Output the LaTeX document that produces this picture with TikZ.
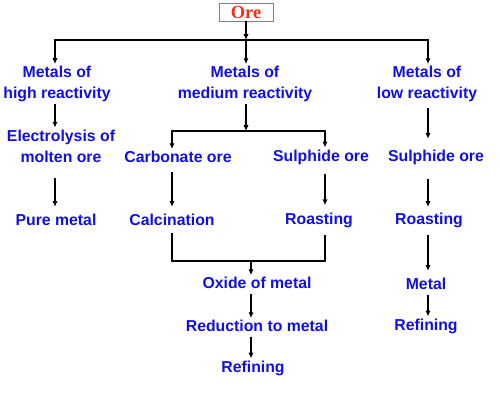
\documentclass[tikz,border=0pt]{standalone}
\usepackage{fontspec}
\setmainfont{Liberation Sans}
\newfontfamily\oreserif{Liberation Serif}
\usepackage{tikz}
\usetikzlibrary{positioning,arrows.meta}
\definecolor{oreblue}{RGB}{15,15,230}
\definecolor{orered}{RGB}{235,50,25}
\tikzset{
    txt/.style={text=oreblue, font=\fontsize{9}{11.9}\selectfont\bfseries, align=center, inner sep=1pt},
    arr/.style={-{Latex[length=3.3pt,width=3pt]}, line width=0.7pt},
    ln/.style={line width=0.7pt}
}

\begin{document}
\begin{tikzpicture}[x=0.02cm, y=-0.02cm]
            \useasboundingbox (0,0) rectangle (500,400);
            % top box
            \node[draw=gray, text=orered, font=\oreserif\fontsize{10.5}{12}\selectfont\bfseries,
                  minimum width=1.08cm, minimum height=0.36cm, inner sep=0pt] (ore) at (246,12) {Ore};
            \coordinate (split) at (246,40);
            % reactivity groups
            \node[txt] (hi) at (57,84) {Metals of\\high reactivity};
            \node[txt] (med) at (245,84) {Metals of\\medium reactivity};
            \node[txt] (low) at (427,84) {Metals of\\low reactivity};
            % second row
            \node[txt] (elec) at (61,146) {Electrolysis of\\molten ore};
            \coordinate (msplit) at (246,131);
            \node[txt] (carb) at (178,157) {Carbonate ore};
            \node[txt] (sulph) at (321,157) {Sulphide ore};
            \node[txt] (lsulph) at (436,157) {Sulphide ore};
            % third row
            \node[txt] (pure) at (56,220) {Pure metal};
            \node[txt] (calc) at (172,220) {Calcination};
            \node[txt] (roast) at (319,220) {Roasting};
            \node[txt] (lroast) at (429,220) {Roasting};
            % lower part
            \coordinate (join) at (251,261);
            \node[txt] (oxide) at (257,283) {Oxide of metal};
            \node[txt] (reduc) at (257,326) {Reduction to metal};
            \node[txt] (refine) at (253,368) {Refining};
            \node[txt] (metal) at (426,284) {Metal};
            \node[txt] (lrefine) at (426,326) {Refining};

            % connectors
            \draw[arr] (ore) -- (split);
            \draw[arr] (split) -| (hi.north -| 55,0);
            \draw[arr] (split) -| (low.north -| 428,0);
            \draw[arr] (split) -- (split |- med.north);
            \draw[arr] ([xshift=0pt]hi.south -| 55,0) -- (elec.north -| 55,0);
            \draw[arr, shorten <=8pt, shorten >=3pt] (elec.south -| 55,0) -- (pure.north -| 55,0);
            \draw[arr] (med.south -| msplit) -- (msplit);
            \draw[arr] (msplit) -| (carb.north -| 172,0);
            \draw[arr] (msplit) -| (sulph.north -| 325,0);
            \draw[arr, shorten <=4pt, shorten >=3pt] (carb.south -| 172,0) -- (calc.north -| 172,0);
            \draw[arr, shorten <=4pt, shorten >=3pt] (sulph.south -| 325,0) -- (roast.north -| 325,0);
            \draw[ln, shorten <=3pt] (calc.south -| 172,0) |- (join);
            \draw[ln, shorten <=3pt] (roast.south -| 325,0) |- (join);
            \draw[arr] (join) -- (join |- oxide.north);
            \draw[arr, shorten <=2pt] (oxide.south -| join) -- (join |- reduc.north);
            \draw[arr, shorten <=2pt] (reduc.south -| join) -- (join |- refine.north);
            \draw[arr, shorten <=2.5pt, shorten >=5pt] (low.south -| 428,0) -- (lsulph.north -| 428,0);
            \draw[arr, shorten <=7pt, shorten >=2pt] (lsulph.south -| 428,0) -- (lroast.north -| 428,0);
            \draw[arr, shorten <=3pt, shorten >=3pt] (lroast.south -| 428,0) -- (metal.north -| 428,0);
            \draw[arr, shorten <=2pt] (metal.south -| 428,0) -- (lrefine.north -| 428,0);
        \end{tikzpicture}
\end{document}
